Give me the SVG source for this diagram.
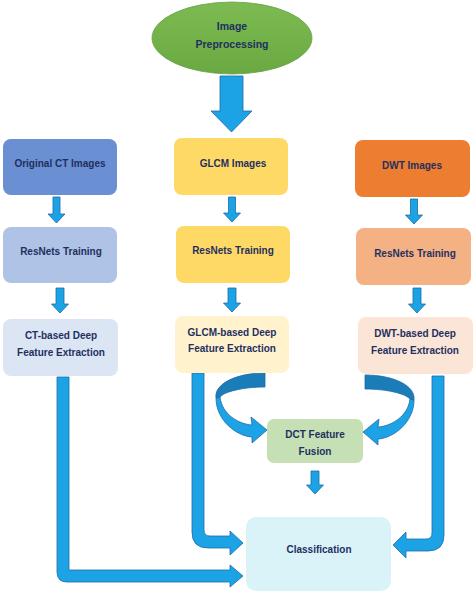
<svg xmlns="http://www.w3.org/2000/svg" width="474" height="593" viewBox="0 0 474 593">
<style>
.t{font-family:"Liberation Sans",Arial,sans-serif;font-weight:bold;font-size:10px;fill:#1f3060;text-anchor:middle}
.arr{fill:#1ba3e6;stroke:#1f6aa8;stroke-width:0.8;stroke-linejoin:round}
.dark{fill:#1a7db8;stroke:#1f6aa8;stroke-width:0.8;stroke-linejoin:round}
</style>
<defs>
<linearGradient id="g" x1="0" y1="0" x2="0" y2="1">
<stop offset="0" stop-color="#7dbb52"/>
<stop offset="1" stop-color="#6aa841"/>
</linearGradient>
<path id="sa" d="M-3.5,0 H3.5 V-9 H8.5 L0,0 L-8.5,-9 H-3.5 Z"/>
</defs>
<rect width="474" height="593" fill="#ffffff"/>

<g id="connectors">
<path class="arr" d="M220,76 H243 V111 H252 L231.5,132 L211,111 H220 Z"/>
<path class="arr" d="M53,197 H60 V214 H65 L56.5,223 L48,214 H53 Z"/>
<path class="arr" d="M228.5,197 H235.5 V213 H240.5 L232,222 L223.5,213 H228.5 Z"/>
<path class="arr" d="M410.5,199 H417.5 V215 H422.5 L414,224 L405.5,215 H410.5 Z"/>
<path class="arr" d="M56,288 H64 V304 H68.5 L60,313 L51.5,304 H56 Z"/>
<path class="arr" d="M228,288 H236 V303 H240.5 L232,312 L223.5,303 H228 Z"/>
<path class="arr" d="M413,288 H421 V304 H425.5 L417,313 L408.5,304 H413 Z"/>
<path class="arr" d="M311,471 H319 V485 H323.5 L315,494 L306.5,485 H311 Z"/>
<path class="arr" d="M57,377 H69 V570 H230 V565 L243,576 L230,587 V582 H67 Q57,582 57,572 Z"/>
<path class="arr" d="M192,373 H204 V530 Q204,536 210,536 H230 V531 L243,543 L230,555 V548 H208 Q192,548 192,532 Z"/>
<path class="arr" d="M444,376 H432 V533 Q432,539 426,539 H406 V532 L393,545 L406,558 V551 H428 Q444,551 444,535 Z"/>
<g id="curveL">
<path class="arr" d="M216,398 C216,420 236,436 252,437 L252,443 L267,430 L251,417 L252,425 C238,424 222,414 220,397 Z"/>
<path class="dark" d="M265,373 C236,373 214,384 216,398 L220,397 C224,392 242,387 265,387 Z"/>
</g>
<g transform="translate(630,2) scale(-1,1)">
<path class="arr" d="M216,398 C216,420 236,436 252,437 L252,443 L267,430 L251,417 L252,425 C238,424 222,414 220,397 Z"/>
<path class="dark" d="M265,373 C236,373 214,384 216,398 L220,397 C224,392 242,387 265,387 Z"/>
</g>
</g>

<g id="preprocessing">
<ellipse cx="232" cy="38" rx="80" ry="36" fill="url(#g)" stroke="#6a9e45" stroke-width="0.8"/>
<text class="t" x="232" y="30" style="font-size:10.5px">Image</text>
<text class="t" x="232" y="48" style="font-size:10.5px">Preprocessing</text>
</g>

<g id="ct-images">
<rect x="3" y="139" width="114" height="56" rx="8" fill="#6a8fd2"/>
<text class="t" x="60" y="166.5">Original CT Images</text>
</g>
<g id="glcm-images">
<rect x="174" y="138" width="114" height="57" rx="8" fill="#ffd966"/>
<text class="t" x="233" y="166.5">GLCM Images</text>
</g>
<g id="dwt-images">
<rect x="355" y="140" width="115" height="57" rx="8" fill="#ed7d31"/>
<text class="t" x="412" y="168.5">DWT Images</text>
</g>

<g id="ct-resnet">
<rect x="3" y="227" width="114" height="56" rx="8" fill="#aec3e6"/>
<text class="t" x="61" y="254.5">ResNets Training</text>
</g>
<g id="glcm-resnet">
<rect x="176" y="226" width="114" height="57" rx="8" fill="#ffd966"/>
<text class="t" x="233" y="253.5">ResNets Training</text>
</g>
<g id="dwt-resnet">
<rect x="356" y="228" width="115" height="57" rx="8" fill="#f4b183"/>
<text class="t" x="415" y="256.5">ResNets Training</text>
</g>

<g id="ct-feat">
<rect x="3" y="319" width="115" height="57" rx="8" fill="#dce5f4"/>
<text class="t" x="61" y="338.5">CT-based Deep</text>
<text class="t" x="61" y="355.5">Feature Extraction</text>
</g>
<g id="glcm-feat">
<rect x="175" y="316" width="114" height="57" rx="8" fill="#fff2cc"/>
<text class="t" x="232" y="335.5">GLCM-based Deep</text>
<text class="t" x="232" y="351.5">Feature Extraction</text>
</g>
<g id="dwt-feat">
<rect x="358" y="317" width="115" height="57" rx="8" fill="#fbe5d6"/>
<text class="t" x="415" y="336.5">DWT-based Deep</text>
<text class="t" x="415" y="353.5">Feature Extraction</text>
</g>

<g id="dct-fusion">
<rect x="267" y="419" width="96" height="44" rx="7" fill="#c5e0b4"/>
<text class="t" x="315" y="437.5">DCT Feature</text>
<text class="t" x="315" y="454.5">Fusion</text>
</g>

<g id="classification">
<rect x="246" y="517" width="145" height="74" rx="10" fill="#d9f3f9"/>
<text class="t" x="319" y="552.5">Classification</text>
</g>
</svg>
